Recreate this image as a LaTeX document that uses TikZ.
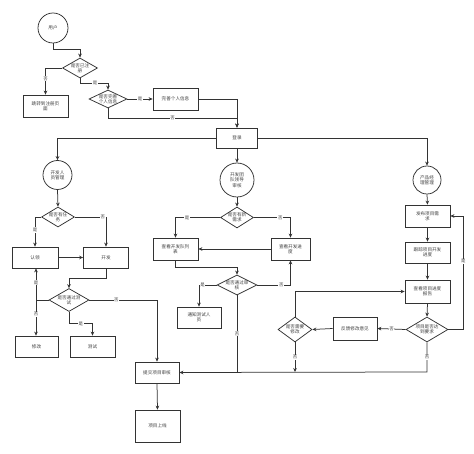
\documentclass[tikz,border=0pt]{standalone}
\usepackage{fontspec}
\setmainfont{Noto Sans CJK SC}
\usetikzlibrary{shapes.geometric,arrows.meta,calc}
\begin{document}
\begin{tikzpicture}[x={(1pt,0)},y={(0,-1pt)},
  every node/.style={font=\fontsize{4.6}{5.4}\selectfont, text=black!75, align=center, inner sep=0.5pt},
  box/.style={draw=black!80, line width=0.75pt, rectangle, minimum width=45pt, minimum height=22pt, fill=white},
  dec/.style={draw=black!80, line width=0.75pt, diamond, minimum width=36pt, minimum height=21pt, inner sep=0pt, fill=white},
  rnd/.style={draw=black!80, line width=0.75pt, circle, minimum size=30pt, inner sep=0pt, fill=white},
  arr/.style={draw=black!80, line width=0.75pt, -{Stealth[length=4pt,width=3.6pt]}},
  ln/.style={draw=black!80, line width=0.75pt},
  lbl/.style={fill=white, inner sep=0.6pt, font=\fontsize{4.4}{5}\selectfont}]
\useasboundingbox (0,0) rectangle (474,454);
% nodes
\node[rnd] (user) at (53,28) {用户};
\node[dec, minimum width=35pt, minimum height=20pt, label={center:{是否已注\\册}}] (d1) at (80,68) {};
\node[box] (b1) at (45.5,106) {跳转到注册页\\面};
\node[dec, minimum width=38pt, minimum height=18pt, label={center:{是否完善\\个人信息}}] (d2) at (108,99) {};
\node[box] (b2) at (175.5,99) {完善个人信息};
\node[box, minimum width=41pt, minimum height=20pt] (login) at (237,138) {登录};
\node[rnd, minimum size=29pt] (cL) at (57.5,175) {开发人\\员管理};
\node[dec, minimum width=33pt, minimum height=20pt, label={center:{是否有任\\务}}] (d3) at (58,217) {};
\node[box, minimum width=46pt, minimum height=21pt] (L1) at (35,257.5) {认领};
\node[box, minimum height=21pt] (L2) at (106,257.5) {开发};
\node[dec, minimum width=40pt, minimum height=23pt, label={center:{是否通过测\\试}}] (d4) at (69,300) {};
\node[box, minimum width=43pt, minimum height=21pt] (L3) at (36.5,346.5) {修改};
\node[box, minimum height=21pt] (L4) at (92.5,346.5) {测试};
\node[box, minimum width=44pt, minimum height=21pt] (sub) at (157,372.5) {提交项目审核};
\node[box, minimum height=32pt] (fin) at (157.5,426) {项目上线};
\node[rnd, minimum size=34pt] (cM) at (237,180) {开发团\\队领导\\审核};
\node[dec, minimum width=33pt, minimum height=21pt, label={center:{是否有新\\需求}}] (d5) at (237,217.5) {};
\node[box] (M1) at (175.5,249) {查看开发队列\\表};
\node[box, minimum width=39pt] (M2) at (290.5,249) {查看开发进\\度};
\node[dec, minimum width=40pt, minimum height=20pt, label={center:{是否通过审\\核}}] (d6) at (237,285) {};
\node[box, minimum width=44pt, minimum height=21pt] (M3) at (199,317.5) {通知测试人\\员};
\node[rnd, minimum size=28pt] (cR) at (427,180) {产品经\\理管理};
\node[box] (R1) at (427.5,216) {发布项目需\\求};
\node[box, minimum height=21pt] (R2) at (427.5,252.5) {跟踪项目开发\\进度};
\node[box, minimum height=23pt] (R3) at (427.5,291.5) {查看项目进度\\报告};
\node[dec, minimum width=42pt, minimum height=25pt, label={center:{项目是否达\\到要求}}] (d7) at (427,329.5) {};
\node[box, minimum width=44pt, minimum height=23pt] (R4) at (355,328.5) {反馈修改意见};
\node[dec, minimum width=34pt, minimum height=25pt, label={center:{是否需要\\修改}}] (d8) at (295,329.5) {};
\coordinate (jL) at (36,300);
\coordinate (jM) at (237,372);
\coordinate (jR) at (427,372);
% connectors
\draw[arr] (user.south) -- ++(0,6) -| (d1.north);
\draw[arr] (d1.west) -| node[lbl, pos=0.7] {否} (b1.north);
\draw[arr] (d1.south) -- ++(0,5) -| node[lbl, pos=0.27] {是} (d2.north);
\draw[arr] (d2.east) -- node[lbl] {是} (b2.west);
\draw[arr] (b2.east) -| (login.north);
\draw[arr] (d2.south) -- ++(0,10) -| node[lbl, pos=0.25] {否} (login.north);
\draw[arr] (login.west) -| (cL.north);
\draw[arr] (login.east) -| (cR.north);
\draw[arr] (login.south) -- (cM.north);
\draw[arr] (cL.south) -- (d3.north);
\draw[arr] (d3.west) -| node[lbl, pos=0.72] {是} (L1.north);
\draw[arr] (d3.east) -| node[lbl, pos=0.45] {否} (L2.north);
\draw[arr] (L1.east) -- (L2.west);
\draw[arr] (L2.south) -- ++(0,10) -| (d4.north);
\draw[ln] (d4.west) -- (jL);
\draw[arr] (jL) -- node[lbl, pos=0.55] {是} (jL |- L1.south);
\draw[arr] (jL) -- node[lbl, pos=0.4] {否} (jL |- L3.north);
\draw[arr] (d4.south) -- ++(0,12) -| node[lbl, pos=0.25] {是} (L4.north);
\draw[arr] (d4.east) -| node[lbl, pos=0.2] {否} (sub.north);
\draw[arr] (sub.south) -- (fin.north);
\draw[arr] (cM.south) -- (d5.north);
\draw[arr] (d5.west) -| node[lbl, pos=0.37] {是} (M1.north);
\draw[arr] (d5.east) -| node[lbl, pos=0.36] {否} (M2.north);
\draw[arr] (M2.west) -- (M1.east);
\draw[arr] (M1.south) -- ++(0,7) -| (d6.north);
\draw[arr] (d6.west) -| node[lbl, pos=0.4] {是} (M3.north);
\draw[arr] (d6.east) -| node[lbl, pos=0.36] {否} (M2.south);
\draw[ln] (d6.south) -- node[lbl] {否} (jM);
\draw[arr] (cR.south) -- (R1.north);
\draw[arr] (R1.south) -- (R2.north);
\draw[arr] (R2.south) -- (R3.north);
\draw[arr] (R3.south) -- (d7.north);
\draw[arr] (d7.east) -- ++(15,0) |- node[lbl, pos=0.3] {是} (R1.east);
\draw[arr] (d7.west) -- node[lbl] {否} (R4.east);
\draw[arr] (R4.west) -- (d8.east);
\draw[arr] (d8.north) |- (R3.west);
\draw[arr] (d8.south) -- node[lbl] {否} (d8.south |- jR);
\draw[arr] (d7.south) -- node[lbl] {否} (jR) -- (sub.east);
\end{tikzpicture}
\end{document}
